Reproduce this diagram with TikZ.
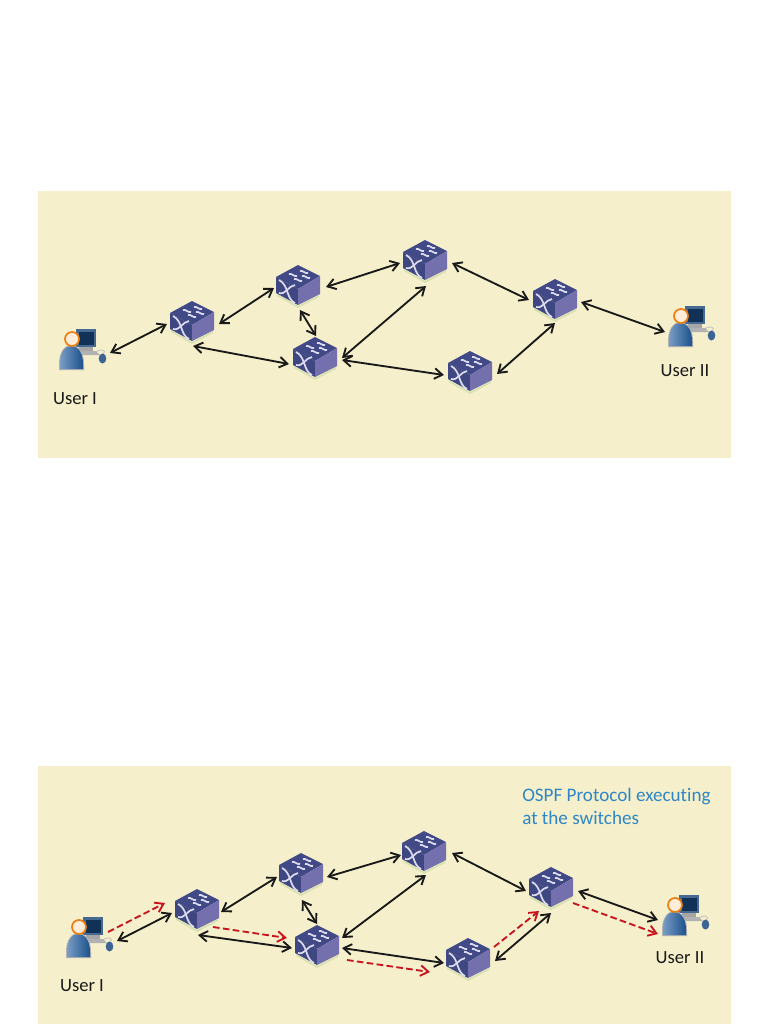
\documentclass[tikz,border=0pt]{standalone}
\usepackage{fontspec}
\setmainfont[Ligatures=NoCommon,Contextuals=NoAlternate]{Carlito}
\usetikzlibrary{arrows.meta}
\definecolor{panelbg}{HTML}{F5F0CB}
\definecolor{swtop}{HTML}{414A86}
\definecolor{swleft}{HTML}{3E4782}
\definecolor{swright}{HTML}{7470AD}
\definecolor{swline}{HTML}{DCDCEE}
\definecolor{swglow}{HTML}{C5D8A0}
\definecolor{bodyblue}{HTML}{1F5A9C}
\definecolor{redarrow}{HTML}{C8141E}
\definecolor{noteblue}{HTML}{2E86C4}
\tikzset{>={Straight Barb[length=6pt,width=8pt]}}
\tikzset{
    switchbox/.pic = {
        \fill[swglow, opacity = 0.6] (-21,9) -- (0,21) -- (21,10) -- (21,12) -- (0,23) -- (-21,11) -- cycle;
        \fill[swtop] (0,-20) -- (22,-9) -- (0,4) -- (-22,-8) -- cycle;
        \fill[swleft] (-22,-8) -- (0,4) -- (0,20) -- (-22,8) -- cycle;
        \fill[swright] (0,4) -- (22,-9) -- (22,9) -- (0,20) -- cycle;
        \draw[swline, line width = 1.3pt] (-19,-5) .. controls (-9,0) and (-12,14) .. (-3,18);
        \draw[swline, line width = 1.3pt] (-19,8) .. controls (-12,10) and (-10,1) .. (-3,0);
        \foreach \mx/\my in {-5/-10, 6/-13, 0/-5, 8/-8} {
            \draw[swline, line width = 1.3pt] (\mx-4,\my-1) .. controls (\mx-1,\my-2) and (\mx+1,\my+2) .. (\mx+4,\my+1);
        }
    },
    userpc/.pic = {
        \draw[gray!50, line width = 0.6pt] (10,4) .. controls (16,-2) and (26,-1) .. (19,5);
        \fill[gray!70] (-4,-3) rectangle (10,1);
        \fill[gray!60!white] (-3,1) -- (13,1) -- (17,5) -- (0,5) -- cycle;
        \fill[bodyblue!60!gray] (-7,-21) rectangle (13,-3);
        \fill[black!45!bodyblue] (-4,-18) rectangle (11,-5);
        \fill[bodyblue!70!gray] (19.5,8.5) ellipse (3.8 and 5);
        \fill[gray!60] (-24,20) -- (1,20) -- (1,14) .. controls (1,-2) and (-8,-5) .. (-12,-5) .. controls (-17,-5) and (-24,0) .. (-24,14) -- cycle;
        \shade[left color = bodyblue!60!white, right color = bodyblue!90!black] (-23,19) -- (0,19) -- (0,14) .. controls (0,-1) and (-8,-4) .. (-12,-4) .. controls (-17,-4) and (-23,1) .. (-23,14) -- cycle;
        \draw[fill = orange!15!white, draw = orange!70!brown, line width = 1.3pt] (-11,-11) circle (7);
    },
    port/.style = {inner sep = 0pt, minimum size = 0pt},
    lk/.style = {<->, line width = 1.4pt, black!90},
    rd/.style = {->, line width = 1.4pt, redarrow, dash pattern = on 5pt off 2.5pt},
    userlbl/.style = {inner sep = 0pt, text = black!90, font = \fontsize{14}{14}\selectfont},
    notelbl/.style = {inner sep = 0pt, text = noteblue, font = \fontsize{14.4}{14}\selectfont, anchor = north west, align = left},
}
\begin{document}
\begin{tikzpicture}[x = 0.75bp, y = -0.75bp]

\useasboundingbox (0,0) rectangle (768,1024);
\fill[panelbg] (38,191) rectangle (731,458);
\fill[panelbg] (38,766) rectangle (731,1024);

% upper panel
\node[port] (sa) at (192,321) {};
\node[port] (sb) at (298,285) {};
\node[port] (sc) at (315,357) {};
\node[port] (sd) at (425,260) {};
\node[port] (se) at (470,371) {};
\node[port] (sf) at (555,299) {};
\node[port] (ua) at (83,350) {};
\node[port] (ub) at (692,327) {};

\foreach \n in {sa,sb,sc,sd,se,sf} {
    \pic at (\n) {switchbox};
}
\pic at (ua) {userpc};
\pic at (ub) {userpc};

\node[userlbl] (ualbl) at (75,399) {User I};
\node[userlbl] (ublbl) at (685,371) {User II};

\draw[lk] ([shift={(27,3)}]ua.center) -- ([shift={(-25,3)}]sa.center);
\draw[lk] ([shift={(27,3)}]sa.center) -- ([shift={(-24,3)}]sb.center);
\draw[lk] ([shift={(1,25)}]sa.center) -- ([shift={(-26,7)}]sc.center);
\draw[lk] ([shift={(2,25)}]sb.center) -- ([shift={(1,-21)}]sc.center);
\draw[lk] ([shift={(28,2)}]sb.center) -- ([shift={(-25,3)}]sd.center);
\draw[lk] ([shift={(27,1)}]sc.center) -- ([shift={(1,26)}]sd.center);
\draw[lk] ([shift={(27,3)}]sc.center) -- ([shift={(-26,4)}]se.center);
\draw[lk] ([shift={(27,3)}]sd.center) -- ([shift={(-26,1)}]sf.center);
\draw[lk] ([shift={(27,3)}]se.center) -- ([shift={(0,24)}]sf.center);
\draw[lk] ([shift={(26,3)}]sf.center) -- ([shift={(-27,5)}]ub.center);

% lower panel
\node[port] (ta) at (197,909) {};
\node[port] (tb) at (301,873) {};
\node[port] (tc) at (317,945) {};
\node[port] (td) at (424,851) {};
\node[port] (te) at (468,958) {};
\node[port] (tf) at (551,887) {};
\node[port] (va) at (90,938) {};
\node[port] (vb) at (686,916) {};

\foreach \n in {ta,tb,tc,td,te,tf} {
    \pic at (\n) {switchbox};
}
\pic at (va) {userpc};
\pic at (vb) {userpc};

\node[userlbl] (valbl) at (82,986) {User I};
\node[userlbl] (vblbl) at (680,958) {User II};
\node[notelbl] (note) at (522,788) {OSPF Protocol executing\\[3pt]at the switches};

\draw[lk] ([shift={(27,3)}]va.center) -- ([shift={(-25,4)}]ta.center);
\draw[lk] ([shift={(24,3)}]ta.center) -- ([shift={(-24,4)}]tb.center);
\draw[lk] ([shift={(1,26)}]ta.center) -- ([shift={(-25,3)}]tc.center);
\draw[lk] ([shift={(1,27)}]tb.center) -- ([shift={(0,-21)}]tc.center);
\draw[lk] ([shift={(26,4)}]tb.center) -- ([shift={(-23,4)}]td.center);
\draw[lk] ([shift={(25,-7)}]tc.center) -- ([shift={(2,24)}]td.center);
\draw[lk] ([shift={(25,3)}]tc.center) -- ([shift={(-24,5)}]te.center);
\draw[lk] ([shift={(28,2)}]td.center) -- ([shift={(-25,4)}]tf.center);
\draw[lk] ([shift={(27,3)}]te.center) -- ([shift={(0,26)}]tf.center);
\draw[lk] ([shift={(27,4)}]tf.center) -- ([shift={(-28,4)}]vb.center);

\draw[rd] ([shift={(18,-6)}]va.center) -- ([shift={(-32,-6)}]ta.center);
\draw[rd] ([shift={(16,18)}]ta.center) -- ([shift={(-30,-7)}]tc.center);
\draw[rd] ([shift={(30,15)}]tc.center) -- ([shift={(-38,14)}]te.center);
\draw[rd] ([shift={(26,-11)}]te.center) -- ([shift={(-12,24)}]tf.center);
\draw[rd] ([shift={(22,16)}]tf.center) -- ([shift={(-28,18)}]vb.center);

\end{tikzpicture}
\end{document}
